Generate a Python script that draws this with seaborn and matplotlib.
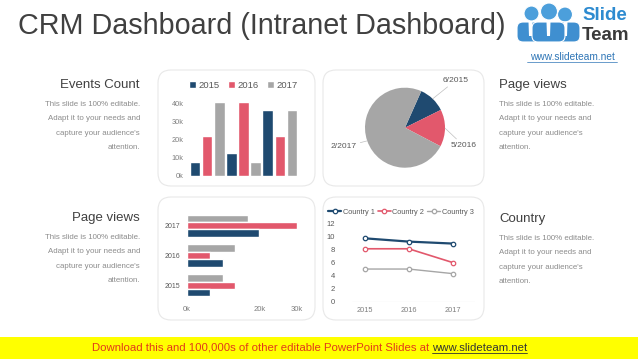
import numpy as np
import pandas as pd
import matplotlib
matplotlib.use("Agg")
import matplotlib.pyplot as plt
import seaborn as sns
from matplotlib.patches import FancyBboxPatch, Circle, Rectangle, Polygon

# ---- data ----
event_groups = ["A", "B", "C"]
event_years = ["2015", "2016", "2017"]
events_2015 = [7500, 12500, 36500]
events_2016 = [22000, 41000, 22000]
events_2017 = [41000, 7500, 36500]

pie_labels = ["6/2015", "5/2016", "2/2017"]
pie_values = [11, 15, 74]

views_years = ["2017", "2016", "2015"]
views_series = ["Series 3", "Series 2", "Series 1"]
views_s1 = [19800, 9800, 6400]
views_s2 = [30000, 6400, 13200]
views_s3 = [16600, 13200, 9800]

country_years = ["2015", "2016", "2017"]
country_names = ["Country 1", "Country 2", "Country 3"]
country1 = [9.7, 9.2, 8.9]
country2 = [8.1, 8.1, 6.0]
country3 = [5.0, 5.0, 4.3]

body_lines = ["This slide is 100% editable.", "Adapt it to your needs and",
              "capture your audience's", "attention."]

BLUE = "#1F4A70"
RED = "#E2586C"
GRAY = "#A6A6A6"
TXT = "#595959"

W, H = 638, 359
sns.set_theme(style="white")
plt.rcParams["font.family"] = ["Liberation Sans", "DejaVu Sans"]

fig = plt.figure(figsize=(W / 100, H / 100), dpi=100)


def px_axes(x0, y0, x1, y1, **kw):
    """axes from pixel box (top-left origin)"""
    return fig.add_axes([x0 / W, 1 - y1 / H, (x1 - x0) / W, (y1 - y0) / H], **kw)


# background layer: panels, texts, logo, banner
bg = px_axes(0, 0, W, H)
bg.set_xlim(0, W)
bg.set_ylim(H, 0)
bg.axis("off")

for (x0, y0, x1, y1) in [(158, 70, 315, 186), (323, 70, 484, 186),
                         (158, 197, 315, 320), (323, 197, 484, 320)]:
    bg.add_patch(FancyBboxPatch((x0, y0), x1 - x0, y1 - y0,
                                boxstyle="round,pad=0,rounding_size=13",
                                fc="white", ec="#E8E8E8", lw=0.8))

bg.text(18, 26, "CRM Dashboard (Intranet Dashboard)", fontsize=20.7,
        color="#404040", va="center", ha="left")


def side_text(x, y, head, ha):
    bg.text(x, y, head, fontsize=9.5, color="#404040", ha=ha, va="center")
    for i, line in enumerate(body_lines):
        bg.text(x, y + 19.5 + 14.3 * i, line, fontsize=5.7, color="#8C8C8C",
                ha=ha, va="center")


side_text(140, 85, "Events Count", "right")
side_text(140, 218, "Page views", "right")
side_text(499, 85, "Page views", "left")
side_text(499, 219, "Country", "left")

# logo
for (cx, cy, r) in [(531.5, 13.5, 7.5), (565, 14.5, 7.5), (549, 11.5, 8.5)]:
    bg.add_patch(Circle((cx, cy), r, fc="#4C9FDB", ec="white", lw=0.8))
for (x0, x1) in [(517, 544), (551, 580), (532, 565)]:
    bg.add_patch(FancyBboxPatch((x0, 22), x1 - x0, 20,
                                boxstyle="round,pad=0,rounding_size=6",
                                fc="#3F8FD0", ec="white", lw=0.8))
    xm = (x0 + x1) / 2
    bg.add_patch(Polygon([(xm - 2, 22), (xm + 2, 22), (xm + 1.5, 36), (xm - 1.5, 36)],
                         closed=True, fc="white", ec="none"))
bg.text(582, 15, "Slide", fontsize=13.5, fontweight="bold", color="#2E8BD0",
        ha="left", va="center")
bg.text(582, 36, "Team", fontsize=13.5, fontweight="bold", color="#3A3A3A",
        ha="left", va="center")
bg.text(572, 57.5, "www.slideteam.net", fontsize=7.3, color="#2E75B6",
        ha="center", va="center")
bg.plot([527, 617], [62, 62], color="#2E75B6", lw=0.5)

# banner
bg.add_patch(Rectangle((0, 337), W, 22, fc="#FFFF00", ec="none"))
url = bg.text(527, 348, "www.slideteam.net", fontsize=8.2, color="#333333",
              ha="right", va="center")
fig.canvas.draw()
bb = url.get_window_extent().transformed(bg.transData.inverted())
bg.text(bb.x0 - 3, 348, "Download this and 100,000s of other editable PowerPoint Slides at",
        fontsize=8.2, color="#E2391A", ha="right", va="center")
bg.plot([bb.x0, bb.x1], [353, 353], color="#333333", lw=0.6)

# ---- Events Count: grouped bars ----
ax1 = px_axes(189, 100, 298, 176)
ev = pd.DataFrame({"group": event_groups * 3,
                   "year": np.repeat(event_years, 3),
                   "count": events_2015 + events_2016 + events_2017})
sns.barplot(data=ev, x="group", y="count", hue="year", hue_order=event_years,
            palette=[BLUE, RED, GRAY], width=1.0, gap=0.12, ax=ax1,
            saturation=1, errorbar=None)
ax1.set_xlim(-0.5, 2.5)
ax1.set_ylim(0, 42000)
ax1.set_yticks(range(0, 40001, 10000))
ax1.set_yticklabels([f"{v // 1000}k" for v in range(0, 40001, 10000)])
ax1.tick_params(axis="y", labelsize=5.3, colors="#7F7F7F", length=0, pad=4)
ax1.set_xticks([])
ax1.set_xlabel("")
ax1.set_ylabel("")
sns.despine(ax=ax1, left=True, bottom=True)
ax1.patch.set_alpha(0)
ax1.legend(ncol=3, loc="center", bbox_to_anchor=(0.5, 1.19), frameon=False,
           fontsize=6.8, handlelength=0.7, handleheight=0.7, handletextpad=0.3,
           columnspacing=0.9, labelcolor=TXT)

# ---- Page views: pie ----
ax2 = px_axes(365, 87.7, 445, 167.7)
wedges, _ = ax2.pie(pie_values, colors=[BLUE, RED, GRAY], startangle=66,
                    counterclock=False, wedgeprops=dict(linewidth=0))
ax2.set_xlim(-1, 1)
ax2.set_ylim(-1, 1)
label_pos = [(0.95, 1.19, "left"), (1.14, -0.45, "left"), (-1.2, -0.48, "right")]
for w, lab, (tx, ty, ha) in zip(wedges, pie_labels, label_pos):
    ang = np.deg2rad((w.theta1 + w.theta2) / 2)
    ax2.annotate(lab, xy=(np.cos(ang), np.sin(ang)), xytext=(tx, ty),
                 ha=ha, va="center", fontsize=6.1, color=TXT,
                 arrowprops=dict(arrowstyle="-", color="#BFBFBF", lw=0.5,
                                 shrinkA=0, shrinkB=0))

# ---- Page views: horizontal grouped bars ----
ax3 = px_axes(186.7, 210.8, 296.7, 300.2)
pv = pd.DataFrame({"year": views_years * 3,
                   "series": np.repeat(views_series, 3),
                   "views": views_s3 + views_s2 + views_s1})
sns.barplot(data=pv, y="year", x="views", hue="series", order=views_years,
            hue_order=views_series, palette=[GRAY, RED, BLUE], orient="h",
            width=0.74, ax=ax3, saturation=1, errorbar=None, legend=False)
ax3.set_xlim(0, 30000)
ax3.set_xticks([0, 20000, 30000])
ax3.set_xticklabels(["0k", "20k", "30k"])
ax3.tick_params(axis="x", labelsize=5.5, colors="#7F7F7F", length=0, pad=4)
ax3.tick_params(axis="y", labelsize=5, colors=TXT, length=0, pad=5)
ax3.set_xlabel("")
ax3.set_ylabel("")
sns.despine(ax=ax3, left=True, bottom=True)
ax3.patch.set_alpha(0)

# ---- Country: lines ----
ax4 = px_axes(351.7, 223.3, 474.5, 301.7)
ct = pd.DataFrame({"year": country_years * 3,
                   "country": np.repeat(country_names, 3),
                   "value": country1 + country2 + country3})
for name, col, lw in zip(country_names, [BLUE, RED, GRAY], [1.6, 1.2, 1.0]):
    sns.lineplot(data=ct[ct["country"] == name], x="year", y="value", color=col,
                 lw=lw, marker="o", markersize=3.2, markerfacecolor="white",
                 markeredgecolor=col, markeredgewidth=0.9, label=name, ax=ax4)
ax4.axhline(0, color="#D9D9D9", lw=0.8)
ax4.set_xlim(-0.3, 2.5)
ax4.set_ylim(0, 12)
ax4.set_yticks(range(0, 13, 2))
ax4.tick_params(axis="y", labelsize=5.5, colors=TXT, length=0, pad=12)
ax4.tick_params(axis="x", labelsize=5.3, colors="#7F7F7F", length=0, pad=4)
ax4.set_xlabel("")
ax4.set_ylabel("")
sns.despine(ax=ax4, left=True, bottom=True)
ax4.patch.set_alpha(0)
ax4.legend(ncol=3, loc="center", bbox_to_anchor=(0.4, 1.14), frameon=False,
           fontsize=5.3, handlelength=1.8, handletextpad=0.2, columnspacing=0.4,
           labelcolor=TXT)

fig.savefig("out.png", dpi=100)
